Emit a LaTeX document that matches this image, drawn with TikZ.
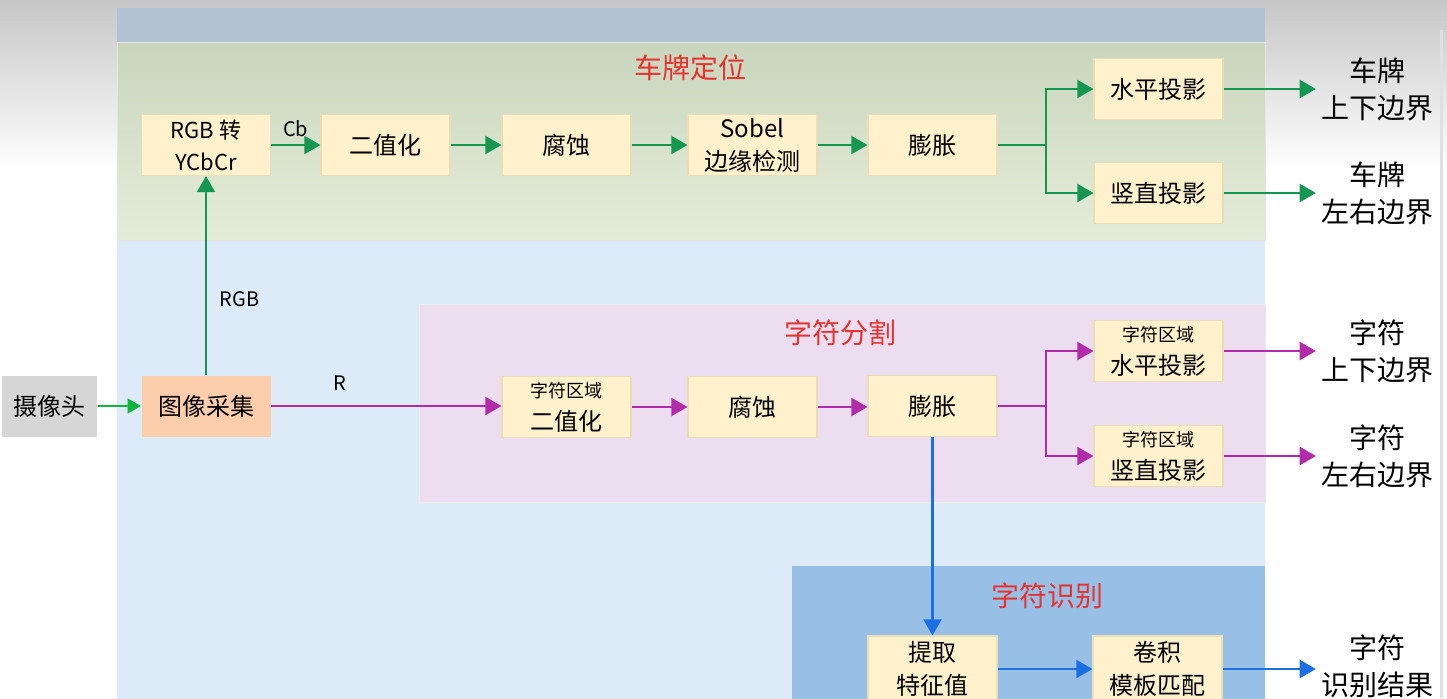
\documentclass[tikz,border=0pt]{standalone}
\usepackage{fontspec}
\newfontfamily\cjk{Noto Sans CJK SC}
\usetikzlibrary{arrows}

\definecolor{boxfill}{HTML}{FFF1CC}
\definecolor{boxline}{HTML}{EBDDB8}
\definecolor{capfill}{HTML}{FBCDAA}
\definecolor{stripblue}{HTML}{B3C3D3}
\definecolor{panelblue}{HTML}{DDEAF7}
\definecolor{panelpink}{HTML}{EDDDF0}
\definecolor{paneldeep}{HTML}{98C0E7}
\definecolor{greentop}{HTML}{C9D5BD}
\definecolor{greenbot}{HTML}{E4EDDA}
\definecolor{flowgreen}{HTML}{159651}
\definecolor{flowpink}{HTML}{B22BAA}
\definecolor{flowblue}{HTML}{1B6FE3}
\definecolor{titlered}{HTML}{E8322E}

\begin{document}
\begin{tikzpicture}[x=.5pt,y=-.5pt,line width=1.2pt,font=\cjk,
  box/.style={draw=boxline,line width=.6pt,fill=boxfill,minimum width=64.5pt,
    minimum height=30.5pt,align=center,inner sep=1pt,
    font=\cjk\fontsize{12}{16.5}\selectfont},
  outtext/.style={align=center,inner sep=2pt,font=\cjk\fontsize{14}{18.5}\selectfont},
  title/.style={text=titlered,font=\cjk\fontsize{14}{17}\selectfont},
  tag/.style={font=\cjk\fontsize{10}{12}\selectfont},
  small/.style={font=\cjk\fontsize{9}{11}\selectfont}]
  \clip (0,0) rectangle (1447,698);

  % background and panels
  \fill[white] (0,0) rectangle (1447,698);
  \shade[top color=black!22,bottom color=white] (0,0) rectangle (1447,170);
  \draw[black!12,line width=1.5pt] (1441,30) -- (1441,698);
  \fill[panelblue] (117,8) rectangle (1265,710);
  \fill[stripblue] (117,8) rectangle (1265,42);
  \shade[top color=greentop,bottom color=greenbot,draw=black!10,line width=.5pt]
    (117,42) rectangle (1265,240);
  \filldraw[fill=panelpink,draw=black!8,line width=.5pt] (419,304) rectangle (1265,502);
  \fill[paneldeep] (792,566) rectangle (1265,710);

  \node[title] at (690,68) {车牌定位};
  \node[title] at (840,333) {字符分割};
  \node[title] at (1047,596) {字符识别};

  % plate location
  \node[box,font=\cjk\fontsize{11}{16}\selectfont] (rgb2ycc) at (206,145) {RGB 转\\YCbCr};
  \node[box] (bin1) at (385.5,145) {二值化};
  \node[box] (ero1) at (566.5,145) {腐蚀};
  \node[box] (sobel) at (752.5,145) {Sobel\\边缘检测};
  \node[box] (dil1) at (932.5,145) {膨胀};
  \node[box] (hproj) at (1158.5,89) {水平投影};
  \node[box] (vproj) at (1158.5,193) {竖直投影};
  \node[outtext] (out1) at (1377,89) {车牌\\上下边界};
  \node[outtext] (out2) at (1377,193) {车牌\\左右边界};
  \coordinate (br1) at (1046,145);

  % capture
  \node[box,draw=none,fill=black!16,minimum width=47.5pt] (cam) at (49.5,406) {摄像头};
  \node[box,draw=none,fill=capfill] (cap) at (206,406) {图像采集};

  % segmentation
  \node[box] (bin2) at (566.5,407) {{\small 字符区域}\\二值化};
  \node[box] (ero2) at (752.5,407) {腐蚀};
  \node[box] (dil2) at (932.5,406) {膨胀};
  \node[box] (hproj2) at (1158.5,351) {{\small 字符区域}\\水平投影};
  \node[box] (vproj2) at (1158.5,456) {{\small 字符区域}\\竖直投影};
  \node[outtext] (out3) at (1377,351) {字符\\上下边界};
  \node[outtext] (out4) at (1377,456) {字符\\左右边界};
  \coordinate (br2) at (1046,406);

  % recognition
  \node[box,minimum height=33pt] (feat) at (932.5,669) {提取\\特征值};
  \node[box,minimum height=33pt] (match) at (1157.5,669) {卷积\\模板匹配};
  \node[outtext] (out5) at (1377,666) {字符\\识别结果};

  \draw[flowgreen!70!green,line width=.8pt,-{triangle 60}] (cam) -- (cap);
  \draw[flowgreen,-{triangle 60}] (cap) -- node[tag,right,pos=.38,xshift=3pt,text=black] {RGB} (rgb2ycc);
  \draw[flowgreen,-{triangle 60}] (rgb2ycc) -- node[tag,above,text=black] {Cb} (bin1);
  \draw[flowgreen,-{triangle 60}] (bin1) -- (ero1);
  \draw[flowgreen,-{triangle 60}] (ero1) -- (sobel);
  \draw[flowgreen,-{triangle 60}] (sobel) -- (dil1);
  \draw[flowgreen] (dil1) -- (br1);
  \draw[flowgreen,-{triangle 60}] (br1) |- (hproj);
  \draw[flowgreen,-{triangle 60}] (br1) |- (vproj);
  \draw[flowgreen,-{triangle 60}] (hproj) -- (out1);
  \draw[flowgreen,-{triangle 60}] (vproj) -- (out2);

  \draw[flowpink,-{triangle 60}] (cap) -- node[tag,above,pos=.3,yshift=4pt,text=black] {R} (bin2.west |- cap);
  \draw[flowpink,-{triangle 60}] (bin2) -- (ero2);
  \draw[flowpink,-{triangle 60}] (ero2) -- (dil2.west |- ero2);
  \draw[flowpink] (dil2) -- (br2);
  \draw[flowpink,-{triangle 60}] (br2) |- (hproj2);
  \draw[flowpink,-{triangle 60}] (br2) |- (vproj2);
  \draw[flowpink,-{triangle 60}] (hproj2) -- (out3);
  \draw[flowpink,-{triangle 60}] (vproj2) -- (out4);

  \draw[flowblue,-{triangle 60}] (dil2) -- (feat);
  \draw[flowblue,-{triangle 60}] (feat) -- (match);
  \draw[flowblue,-{triangle 60}] (match) -- (match -| out5.west);
\end{tikzpicture}
\end{document}
